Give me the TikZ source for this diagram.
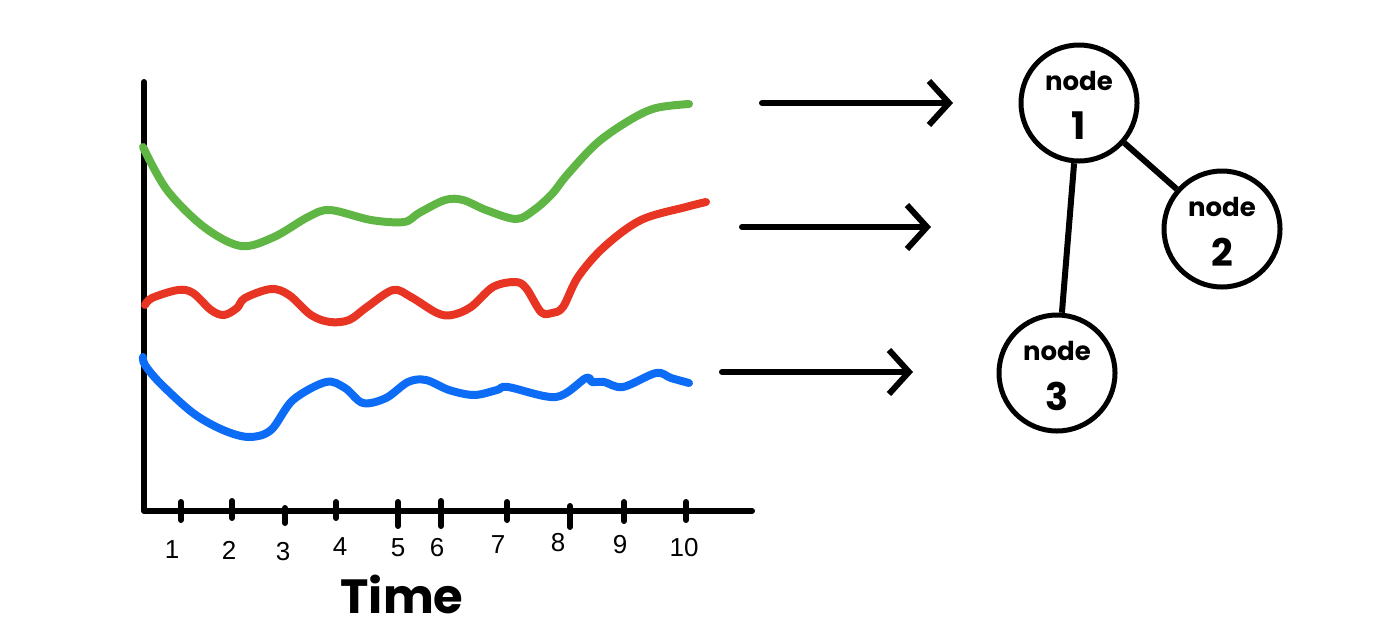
\documentclass[tikz,border=0pt]{standalone}
\usepackage{fontspec}
\setmainfont{Poppins}
\newfontfamily\thinfont{Liberation Sans}
\usetikzlibrary{arrows.meta}
\definecolor{cgreen}{RGB}{96,182,68}
\definecolor{cred}{RGB}{232,52,34}
\definecolor{cblue}{RGB}{12,108,246}
\tikzset{
  axisline/.style={line width=6pt, line cap=round, line join=round},
  curve/.style={line width=8pt, line cap=round, line join=round},
  tickmark/.style={line width=6pt, line cap=round},
  ticklabel/.style={font=\thinfont\fontsize{26}{28}\selectfont, inner sep=0pt},
  bigarrow/.style={line width=6pt, line cap=round, -{Straight Barb[length=20pt,width=44pt,line width=6pt]}},
  gnode/.style={circle, draw, line width=5pt, minimum size=116pt, inner sep=0pt},
  edge/.style={line width=6pt}
}
\begin{document}
\begin{tikzpicture}[x=1pt,y=-1pt]
\useasboundingbox (0,0) rectangle (1400,641);
% axes
\coordinate (Ytop) at (144,82);
\coordinate (O) at (144,511);
\coordinate (Xend) at (752,511);
\draw[axisline] (Ytop) -- (O) -- (Xend);
% ticks
\foreach \x/\a/\b in {181/502/520,232/501/518,285/508/523,336/502/518,398/502/526,441/501/526,507/502/520,570/506/527,624/502/521,686/502/520}{
  \draw[tickmark] (\x,\a) -- (\x,\b);
}
% tick labels
\node[ticklabel] (l1) at (172,550) {1};
\node[ticklabel] (l2) at (229,550) {2};
\node[ticklabel] (l3) at (283,552) {3};
\node[ticklabel] (l4) at (340,547) {4};
\node[ticklabel] (l5) at (398,548) {5};
\node[ticklabel] (l6) at (437,548) {6};
\node[ticklabel] (l7) at (498,545) {7};
\node[ticklabel] (l8) at (558,543) {8};
\node[ticklabel] (l9) at (620,545) {9};
\node[ticklabel] (l10) at (684,548) {10};
\node[font=\fontsize{48}{50}\selectfont\bfseries, inner sep=0pt] (time) at (402,594) {Time};
% curves
\draw[curve, cgreen] plot[smooth, tension=0.55] coordinates {
(143,147) (167,190) (204,227) (241,246) (274,237) (308,217) (330,210)
(371,220) (404,222) (419,213) (445,200) (463,200) (486,210) (516,219)
(534,210) (552,194) (567,175) (597,143) (630,120) (656,108) (689,104)};
\draw[curve, cred] plot[smooth, tension=0.55] coordinates {
(145,305) (152,298) (178,290) (193,293) (211,310) (224,315) (237,308)
(245,298) (271,289) (289,295) (311,315) (330,322) (349,320) (367,307)
(393,290) (411,297) (437,313) (452,315) (471,307) (493,287) (515,282)
(526,288) (541,312) (552,313) (563,307) (578,277) (604,247) (641,220)
(686,207) (706,202)};
\draw[curve, cblue] plot[smooth, tension=0.55] coordinates {
(143,357) (145,365) (160,383) (193,413) (223,430) (249,437) (271,430)
(293,400) (326,382) (345,388) (363,403) (386,398) (408,382) (426,380)
(449,390) (474,395) (497,390) (508,387) (556,397) (586,378) (592,382)
(604,382) (623,387) (656,373) (671,378) (689,383)};
% arrows
\coordinate (a1s) at (762,103);
\coordinate (a1e) at (953,103);
\coordinate (a2s) at (742,227);
\coordinate (a2e) at (931,227);
\coordinate (a3s) at (722,372);
\coordinate (a3e) at (913,372);
\draw[bigarrow] (a1s) -- (a1e);
\draw[bigarrow] (a2s) -- (a2e);
\draw[bigarrow] (a3s) -- (a3e);
% graph
\node[gnode] (n1) at (1079,103) {};
\node[gnode] (n2) at (1222,229) {};
\node[gnode] (n3) at (1057,373) {};
\draw[edge] (n1) -- (n2);
\draw[edge] (n1) -- (n3);
\foreach \n/\t in {n1/1,n2/2,n3/3}{
  \node[font=\fontsize{26}{28}\selectfont\bfseries, inner sep=0pt] (\n w) at ([yshift=22pt]\n.center) {node};
  \node[font=\fontsize{38}{40}\selectfont\bfseries, inner sep=0pt] (\n d) at ([yshift=-23pt]\n.center) {\t};
}
\end{tikzpicture}
\end{document}
